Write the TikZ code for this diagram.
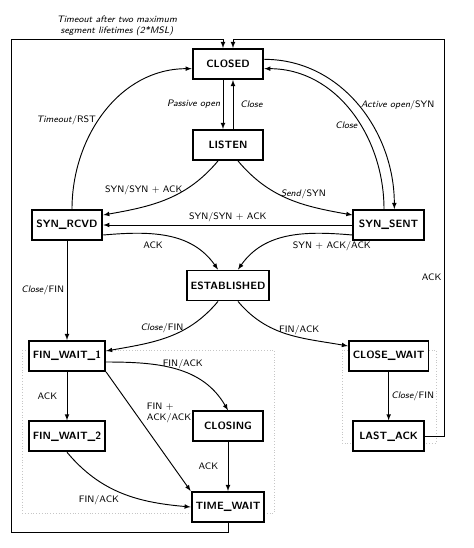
\documentclass[tikz,border=0pt]{standalone}
\usepackage{tikz}
\usetikzlibrary{arrows}
\usetikzlibrary{arrows.meta}
\usetikzlibrary{calc}
\begin{document}
\begin{tikzpicture}[>=latex]
\tikzstyle{state}=[draw,line width=1.6pt,fill=white,minimum width=2.12cm,minimum height=0.9cm,font=\small\sffamily\bfseries]
\tikzstyle{edge}=[thick,->]
\tikzstyle{lbl}=[font=\footnotesize\sffamily,inner sep=2pt]
\useasboundingbox (0,0) rectangle (14.22,-16.44);
% dotted groups
\draw [gray!45, dotted] (0.66,-10.5) rectangle (8.22,-15.39);
\draw [gray!45, dotted] (10.26,-10.5) rectangle (13.08,-13.29);
% states
\node [state] (closed) at (6.84,-1.92) {CLOSED};
\node [state] (listen) at (6.84,-4.35) {LISTEN};
\node [state] (synrcvd) at (2.01,-6.75) {SYN\_RCVD};
\node [state] (synsent) at (11.66,-6.75) {SYN\_SENT};
\node [state, minimum width=2.34cm] (established) at (6.84,-8.565) {ESTABLISHED};
\node [state] (finwait1) at (2.01,-10.68) {FIN\_WAIT\_1};
\node [state, minimum width=2.16cm] (closewait) at (11.66,-10.68) {CLOSE\_WAIT};
\node [state] (finwait2) at (2.01,-13.09) {FIN\_WAIT\_2};
\node [state] (closing) at (6.84,-12.79) {CLOSING};
\node [state] (lastack) at (11.66,-13.09) {LAST\_ACK};
\node [state] (timewait) at (6.84,-15.21) {TIME\_WAIT};
% transitions
\draw [edge] ([xshift=-0.15cm]closed.south) -- ([xshift=-0.15cm]listen.north) node[lbl, midway, left] {\textit{Passive open}};
\draw [edge] ([xshift=0.15cm]listen.north) -- ([xshift=0.15cm]closed.south) node[lbl, midway, right=4pt] {\textit{Close}};
\draw [edge] ([xshift=0.15cm]synrcvd.north) to[out=90, in=180] node[lbl, pos=0.45, left] {\textit{Timeout}/RST} ([yshift=-0.14cm]closed.west);
\draw [edge] ([yshift=0.14cm]closed.east) to[out=0, in=90] node[lbl, pos=0.5, right] {\textit{Active open}/SYN} ([xshift=0.17cm]synsent.north);
\draw [edge] ([xshift=-0.14cm]synsent.north) to[out=90, in=0] node[lbl, pos=0.42, left] {\textit{Close}} ([yshift=-0.14cm]closed.east);
\draw [edge] ([xshift=-0.3cm]listen.south) to[out=-130, in=10] node[lbl, pos=0.33, left] {SYN/SYN + ACK} ([yshift=0.3cm]synrcvd.east);
\draw [edge] ([xshift=0.3cm]listen.south) to[out=-50, in=170] node[lbl, pos=0.4, right] {\textit{Send}/SYN} ([yshift=0.3cm]synsent.west);
\draw [edge] (synsent.west) -- (synrcvd.east) node[lbl, midway, above] {SYN/SYN + ACK};
\draw [edge] ([yshift=-0.3cm]synrcvd.east) to[out=5, in=125] node[lbl, pos=0.5, below left, inner sep=4pt] {ACK} ([xshift=-0.3cm]established.north);
\draw [edge] ([yshift=-0.3cm]synsent.west) to[out=175, in=55] node[lbl, pos=0.5, below right, inner sep=4pt] {SYN + ACK/ACK} ([xshift=0.3cm]established.north);
\draw [edge] (synrcvd.south) -- (finwait1.north) node[lbl, midway, left] {\textit{Close}/FIN};
\draw [edge] ([xshift=-0.3cm]established.south) to[out=-130, in=10] node[lbl, pos=0.33, left] {\textit{Close}/FIN} ([yshift=0.15cm]finwait1.east);
\draw [edge] ([xshift=0.3cm]established.south) to[out=-50, in=170] node[lbl, pos=0.4, right] {FIN/ACK} ([yshift=0.3cm]closewait.west);
\draw [edge] (finwait1.south) -- (finwait2.north) node[lbl, midway, left=6pt] {ACK};
\draw [edge] ([yshift=-0.18cm]finwait1.east) to[out=0, in=120] node[lbl, pos=0.55, above] {FIN/ACK} (closing.north);
\draw [edge] (finwait1.south east) -- (timewait.north west) node[lbl, pos=0.45, above right, align=left] {FIN +\\ACK/ACK};
\draw [edge] (closing.south) -- (timewait.north) node[lbl, midway, left=6pt] {ACK};
\draw [edge] (finwait2.south) to[out=-50, in=175] node[lbl, pos=0.5, below left] {FIN/ACK} (timewait.west);
\draw [edge] (closewait.south) -- (lastack.north) node[lbl, midway, right] {\textit{Close}/FIN};
% back to CLOSED
\draw [edge] (timewait.south) -- ++(0,-0.3) -| (0.33,-1.17) -| ([xshift=-0.15cm]closed.north) node[lbl, pos=0.25, above, align=center, font=\footnotesize\sffamily\itshape] {Timeout after two maximum\\segment lifetimes (2*MSL)};
\draw [edge] (lastack.east) -| (13.32,-1.17) -| ([xshift=0.15cm]closed.north);
\path (lastack.east) -| (13.32,-1.17) node[lbl, pos=0.7, left] {ACK};
\end{tikzpicture}
\end{document}
